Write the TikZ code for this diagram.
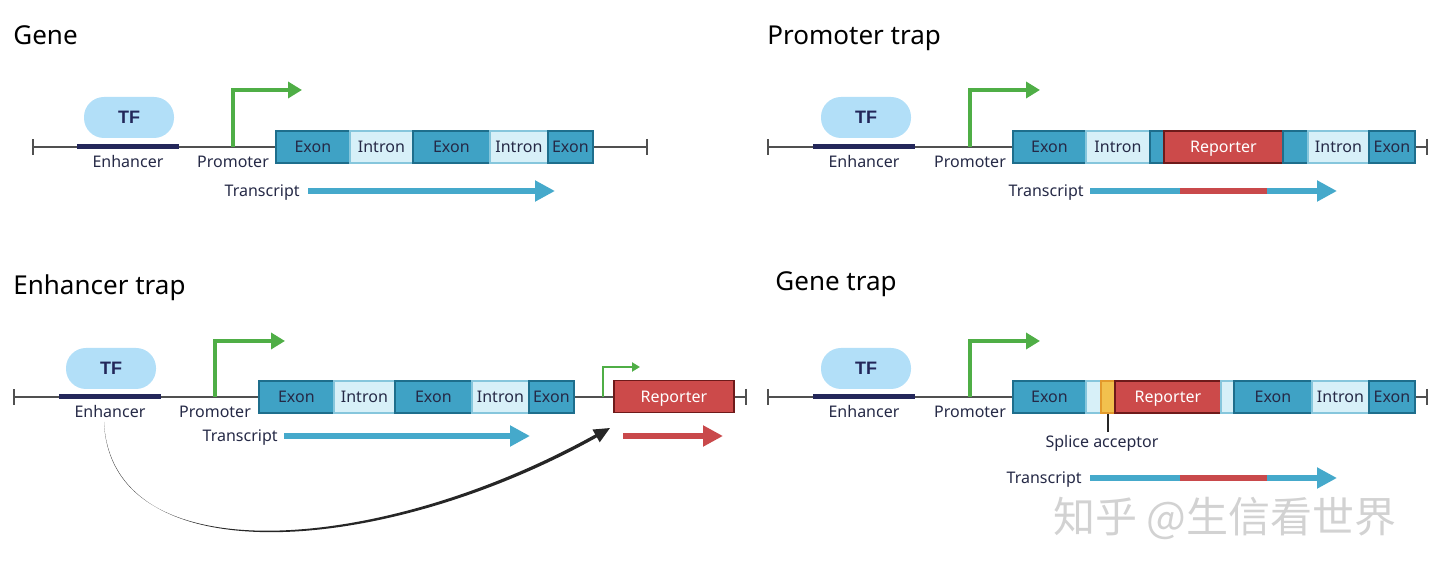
\documentclass[tikz,border=0pt]{standalone}
\usepackage{fontspec}
\setmainfont{Noto Sans}
\newfontfamily\cjkfont{Noto Sans CJK SC}
\newfontfamily\tffont{Liberation Sans}
\usetikzlibrary{arrows.meta,calc}
\definecolor{exonF}{HTML}{3FA2C5}
\definecolor{exonD}{HTML}{1E6E8C}
\definecolor{intronF}{HTML}{D7F0F8}
\definecolor{intronD}{HTML}{86C6DC}
\definecolor{repF}{HTML}{CC4A4A}
\definecolor{repD}{HTML}{6E1A1A}
\definecolor{txtC}{HTML}{252946}
\definecolor{tfF}{HTML}{B2DFF8}
\definecolor{enhC}{HTML}{23275A}
\definecolor{grn}{HTML}{4FAE46}
\definecolor{trB}{HTML}{45A9CB}
\definecolor{trR}{HTML}{C9494B}
\definecolor{bbC}{HTML}{505050}
\definecolor{saF}{HTML}{F2C14E}
\definecolor{saD}{HTML}{E39A2C}
\newcommand\blk[6]{\node[#2, minimum width={(#4-#3)*0.5pt}] (#1) at (#3,#5) {#6};}
\tikzset{
  lbl/.style={font=\fontsize{8}{9}\selectfont, text=txtC, inner sep=0pt, text height=5.8pt, text depth=0pt},
  ttl/.style={font=\fontsize{13}{15}\selectfont, text=black, anchor=base west, inner sep=0pt},
  blkbase/.style={minimum height=16pt, inner sep=0pt, anchor=west, line width=0.9pt, font=\fontsize{8}{9}\selectfont, text=txtC, text height=5.8pt, text depth=0pt},
  exon/.style={blkbase, fill=exonF, draw=exonD},
  intron/.style={blkbase, fill=intronF, draw=intronD},
  reporter/.style={blkbase, fill=repF, draw=repD, text=white},
  sacc/.style={blkbase, fill=saF, draw=saD},
  backbone/.style={draw=bbC, line width=1pt, {Bar[width=8pt]}-{Bar[width=8pt]}},
  tf/.style={fill=tfF, rounded corners=10pt, minimum width=45pt, minimum height=20.5pt, font=\tffont\bfseries\fontsize{9}{10}\selectfont, text=enhC, inner sep=0pt},
  enh/.style={draw=enhC, line width=2.5pt},
  prom/.style={draw=grn, line width=2pt, -{Triangle[length=7pt,width=8pt]}},
  trans/.style={line width=3pt},
  transhead/.style={-{Triangle[length=10pt,width=10pt]}},
}
\begin{document}
\begin{tikzpicture}[x=0.5pt, y=-0.5pt]
\useasboundingbox (0,0) rectangle (1440,576);
% ================= Gene (top-left)
\node[ttl] (t1) at (13,45) {Gene};
\coordinate (g1L) at (32,147); \coordinate (g1R) at (648,147);
\draw[backbone] (g1L) -- (g1R);
\coordinate (e1a) at (77,147); \coordinate (e1b) at (179,147);
\draw[enh] (e1a) -- (e1b);
\node[tf] (tf1) at (129,117.5) {TF};
\node[lbl] (enl1) at (128,162) {Enhancer};
\node[lbl] (prl1) at (233,162) {Promoter};
\blk{a1}{exon}{275}{349}{147}{Exon}
\blk{a2}{intron}{349}{412}{147}{Intron}
\blk{a3}{exon}{412}{489}{147}{Exon}
\blk{a4}{intron}{489}{547}{147}{Intron}
\blk{a5}{exon}{547}{592}{147}{Exon}
\coordinate (p1) at (233,147); \coordinate (p1e) at (302,90);
\draw[prom] (p1) |- (p1e);
\node[lbl, anchor=east] (tl1) at (300,191) {Transcript};
\coordinate (ta1) at (308,191); \coordinate (tb1) at (555,191);
\draw[trans, trB, transhead] (ta1) -- (tb1);
% ================= Promoter trap (top-right)
\node[ttl] (t2) at (767,45) {Promoter trap};
\coordinate (g2L) at (767,147); \coordinate (g2R) at (1428,147);
\draw[backbone] (g2L) -- (g2R);
\coordinate (e2a) at (813,147); \coordinate (e2b) at (915,147);
\draw[enh] (e2a) -- (e2b);
\node[tf] (tf2) at (866,117.5) {TF};
\node[lbl] (enl2) at (864,162) {Enhancer};
\node[lbl] (prl2) at (970,162) {Promoter};
\blk{b1}{exon}{1012}{1085}{147}{Exon}
\blk{b2}{intron}{1085}{1149}{147}{Intron}
\blk{b3}{exon}{1149}{1163}{147}{}
\blk{b4}{reporter}{1163}{1282}{147}{Reporter}
\blk{b5}{exon}{1282}{1307}{147}{}
\blk{b6}{intron}{1307}{1368}{147}{Intron}
\blk{b7}{exon}{1368}{1414}{147}{Exon}
\coordinate (p2) at (970,147); \coordinate (p2e) at (1040,90);
\draw[prom] (p2) |- (p2e);
\node[lbl, anchor=east] (tl2) at (1084,191) {Transcript};
\coordinate (ta2) at (1090,191); \coordinate (tm2) at (1180,191);
\coordinate (tn2) at (1267,191); \coordinate (tb2) at (1337,191);
\draw[trans, trB] (ta2) -- (tm2);
\draw[trans, trR] (tm2) -- (tn2);
\draw[trans, trB, transhead] (tn2) -- (tb2);
% ================= Enhancer trap (bottom-left)
\node[ttl] (t3) at (13,295) {Enhancer trap};
\coordinate (g3L) at (13,397); \coordinate (g3R) at (747,397);
\draw[backbone] (g3L) -- (g3R);
\coordinate (e3a) at (59,397); \coordinate (e3b) at (161,397);
\draw[enh] (e3a) -- (e3b);
\node[tf] (tf3) at (111,368.5) {TF};
\node[lbl] (enl3) at (110,412) {Enhancer};
\node[lbl] (prl3) at (215,412) {Promoter};
\blk{c1}{exon}{258}{333}{397}{Exon}
\blk{c2}{intron}{333}{394}{397}{Intron}
\blk{c3}{exon}{394}{471}{397}{Exon}
\blk{c4}{intron}{471}{528}{397}{Intron}
\blk{c5}{exon}{528}{573}{397}{Exon}
\blk{c6}{reporter}{613}{733}{396.5}{Reporter}
\coordinate (p3) at (215,397); \coordinate (p3e) at (285,341);
\draw[prom] (p3) |- (p3e);
\coordinate (q3) at (603,397); \coordinate (q3e) at (640,367);
\draw[draw=grn, line width=1pt, -{Triangle[length=4pt,width=4.5pt]}] (q3) |- (q3e);
\node[lbl, anchor=east] (tl3) at (278,436) {Transcript};
\coordinate (ta3) at (284,436); \coordinate (tb3) at (530,436);
\draw[trans, trB, transhead] (ta3) -- (tb3);
\coordinate (ra3) at (623,436); \coordinate (rb3) at (723,436);
\draw[trans, trR, transhead] (ra3) -- (rb3);
% curved tapered arrow from enhancer to reporter
\coordinate (cs) at (104,422);
\coordinate (cm1) at (597,433.5); \coordinate (cm2) at (598.6,436.4);
\coordinate (ce) at (610,428);
\fill[black!85] (cs) .. controls (110,575) and (380,555) .. (cm1) -- (cm2) .. controls (381.5,558) and (111.4,575) .. (cs);
\draw[black!85, line width=1.2pt, -{Triangle[length=8pt,width=7pt]}] ($(cm1)!0.5!(cm2)$) -- (ce);
% ================= Gene trap (bottom-right)
\node[ttl] (t4) at (775,291) {Gene trap};
\coordinate (g4L) at (767,397); \coordinate (g4R) at (1428,397);
\draw[backbone] (g4L) -- (g4R);
\coordinate (e4a) at (813,397); \coordinate (e4b) at (915,397);
\draw[enh] (e4a) -- (e4b);
\node[tf] (tf4) at (866,368.5) {TF};
\node[lbl] (enl4) at (864,412) {Enhancer};
\node[lbl] (prl4) at (970,412) {Promoter};
\blk{d1}{exon}{1012}{1085}{397}{Exon}
\blk{d2}{intron}{1085}{1100}{397}{}
\blk{d3}{sacc}{1100}{1114}{397}{}
\blk{d4}{reporter}{1114}{1220}{397}{Reporter}
\blk{d5}{intron}{1220}{1233}{397}{}
\blk{d6}{exon}{1233}{1311}{397}{Exon}
\blk{d7}{intron}{1311}{1368}{397}{Intron}
\blk{d8}{exon}{1368}{1414}{397}{Exon}
\coordinate (p4) at (970,397); \coordinate (p4e) at (1040,341);
\draw[prom] (p4) |- (p4e);
\node[lbl] (sal) at (1102,442) {Splice acceptor};
\coordinate (sab) at (1107,432);
\draw[black!85, line width=1pt] (d3.south) -- (d3.south |- sab);
\node[lbl, anchor=east] (tl4) at (1082,478) {Transcript};
\coordinate (ta4) at (1090,478); \coordinate (tm4) at (1180,478);
\coordinate (tn4) at (1267,478); \coordinate (tb4) at (1337,478);
\draw[trans, trB] (ta4) -- (tm4);
\draw[trans, trR] (tm4) -- (tn4);
\draw[trans, trB, transhead] (tn4) -- (tb4);
% watermark
\node[font=\cjkfont\fontsize{21}{24}\selectfont, text=gray!35, anchor=west, inner sep=0pt] (wm) at (1053,518) {知乎 @生信看世界};
\end{tikzpicture}
\end{document}
